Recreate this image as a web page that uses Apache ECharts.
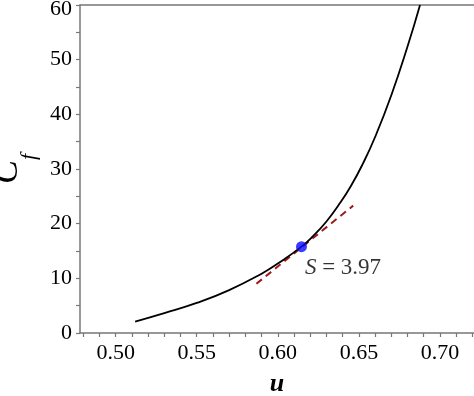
<!DOCTYPE html>
<html>
<head>
<meta charset="utf-8">
<script src="https://cdn.jsdelivr.net/npm/echarts@6/dist/echarts.min.js"></script>
<style>html,body{margin:0;padding:0;background:#fff;}#c{width:474px;height:396px;}</style>
</head>
<body>
<div id="c"></div>
<script>
// Curve Cf(u)
var curveU  = [0.512, 0.530, 0.550, 0.570, 0.590, 0.600, 0.6146, 0.622, 0.630, 0.6375, 0.645, 0.6525, 0.660, 0.670, 0.680, 0.6877];
var curveCf = [2.1,   3.65,  5.5,   7.85,  10.85, 12.7,  15.8,   17.8,  20.4,  23.4,   26.85, 31.0,   35.85, 43.5,  52.4,  60.0];
// Tangent line endpoints
var tangentU  = [0.5868, 0.6465];
var tangentCf = [9.0, 23.3];
// Marked point
var pointU = [0.6146];
var pointCf = [15.8];
// Annotation
var annU = [0.6167];
var annCf = [11.9];
var annText = '3.97';
// Ticks
var xTickValues = [0.48,0.49,0.50,0.51,0.52,0.53,0.54,0.55,0.56,0.57,0.58,0.59,0.60,0.61,0.62,0.63,0.64,0.65,0.66,0.67,0.68,0.69,0.70,0.71,0.72];
var xLabelValues = [0.50, 0.55, 0.60, 0.65, 0.70];
var yMin = 0, yMax = 60, yInterval = 10;
var xMin = 0.478, xMax = 0.721;

function zip(a, b) { return a.map(function (v, i) { return [v, b[i]]; }); }

var FONT = '"Liberation Serif", "Times New Roman", serif';
var axisColor = '#777';

var chart = echarts.init(document.getElementById('c'), null, {renderer: 'canvas'});
chart.setOption({
  animation: false,
  backgroundColor: '#fff',
  grid: {left: 80, right: 0, top: 5, bottom: 63, containLabel: false, outerBoundsMode: 'none'},
  xAxis: [{
    type: 'value', min: xMin, max: xMax, position: 'bottom',
    axisLine: {show: true, onZero: false, lineStyle: {color: axisColor, width: 1.5}},
    axisTick: {show: true, inside: false, length: 4, customValues: xTickValues, lineStyle: {color: axisColor, width: 1.2}},
    axisLabel: {show: true, customValues: xLabelValues, margin: 9, color: '#000', fontFamily: FONT, fontSize: 22,
      formatter: function (v) { return v.toFixed(2); }},
    splitLine: {show: false},
    name: 'u', nameLocation: 'middle', nameGap: 38, nameMoveOverlap: false,
    nameTextStyle: {fontFamily: FONT, fontSize: 26, fontStyle: 'italic', fontWeight: 'bold', color: '#000'}
  }, {
    type: 'value', min: xMin, max: xMax, position: 'top',
    axisLine: {show: true, onZero: false, lineStyle: {color: axisColor, width: 1.5}},
    axisTick: {show: false}, axisLabel: {show: false}, splitLine: {show: false}
  }],
  yAxis: {
    type: 'value', min: yMin, max: yMax, interval: yInterval,
    axisLine: {show: true, onZero: false, lineStyle: {color: axisColor, width: 1.5}},
    axisTick: {show: true, inside: false, length: 4, lineStyle: {color: axisColor, width: 1.2}},
    minorTick: {show: true, splitNumber: 2, length: 4, lineStyle: {color: axisColor, width: 1.2}},
    axisLabel: {margin: 8, color: '#000', fontFamily: FONT, fontSize: 22,
      formatter: function (v) { return v === yMax ? '{t|' + v + '}' : String(v); },
      rich: {t: {fontFamily: FONT, fontSize: 22, color: '#000', padding: [8, 0, 0, 0]}}},
    splitLine: {show: false},
    name: '{c|C}{f|f}', nameLocation: 'middle', nameRotate: 90, nameGap: 40, nameMoveOverlap: false,
    nameTextStyle: {
      rich: {
        c: {fontFamily: FONT, fontSize: 36, fontStyle: 'italic', color: '#000', lineHeight: 40, verticalAlign: 'top'},
        f: {fontFamily: FONT, fontSize: 22, fontStyle: 'italic', color: '#000', lineHeight: 50, verticalAlign: 'bottom', padding: [0, 0, 0, 0]}
      }
    }
  },
  series: [{
    type: 'line', data: zip(curveU, curveCf), smooth: 0.5, showSymbol: false,
    lineStyle: {color: '#000', width: 1.8}, z: 3
  }, {
    type: 'line', data: zip(tangentU, tangentCf), showSymbol: false,
    lineStyle: {color: '#a01818', width: 2, type: [7, 5]}, z: 2
  }, {
    type: 'scatter', data: zip(pointU, pointCf), symbolSize: 11,
    itemStyle: {color: '#0a0aff'}, z: 4
  }, {
    type: 'scatter', data: zip(annU, annCf), symbolSize: 0,
    label: {show: true, position: 'right', distance: 0,
      formatter: '{s|S} = ' + annText,
      fontFamily: FONT, fontSize: 23, color: '#000',
      rich: {s: {fontFamily: FONT, fontSize: 23, fontStyle: 'italic', color: '#000'}}}
  }]
});
</script>
</body>
</html>
